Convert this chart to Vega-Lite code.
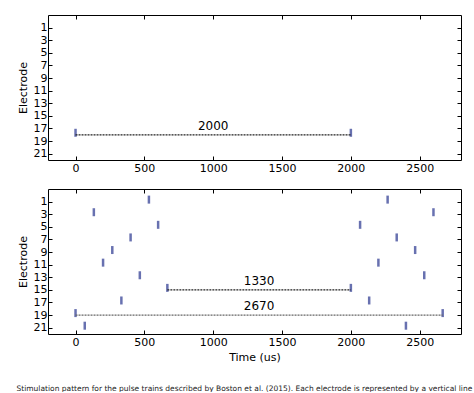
{
  "$schema": "https://vega.github.io/schema/vega-lite/v6.json",
  "padding": {"left": 16, "top": 14, "right": 5, "bottom": 0},
  "spacing": 14,
  "config": {
    "font": "DejaVu Sans",
    "view": {"stroke": "#000000", "strokeWidth": 1},
    "axis": {"labelFontSize": 11, "labelColor": "#000000", "titleFontSize": 11, "titleFontWeight": "normal", "titleColor": "#000000", "grid": false, "domain": false, "tickColor": "#000000", "tickSize": -4, "tickWidth": 1, "format": "d"}
  },
  "title": {"text": "Stimulation pattern for the pulse trains described by Boston et al. (2015). Each electrode is represented by a vertical line", "orient": "bottom", "anchor": "start", "fontSize": 7.5, "fontWeight": "normal", "color": "#222222", "offset": 22},
  "datasets": {
    "pulsesA": [{"t": 0, "e": 18}, {"t": 2000, "e": 18}],
    "gapsA": [{"start": 0, "end": 2000, "mid": 1000, "e": 18, "label": "2000", "kind": "dark"}],
    "pulsesB": [
      {"t": 0, "e": 19}, {"t": 67, "e": 21}, {"t": 133, "e": 3}, {"t": 200, "e": 11},
      {"t": 267, "e": 9}, {"t": 333, "e": 17}, {"t": 400, "e": 7}, {"t": 467, "e": 13},
      {"t": 533, "e": 1}, {"t": 600, "e": 5}, {"t": 667, "e": 15},
      {"t": 2000, "e": 15}, {"t": 2067, "e": 5}, {"t": 2133, "e": 17}, {"t": 2200, "e": 11},
      {"t": 2267, "e": 1}, {"t": 2333, "e": 7}, {"t": 2400, "e": 21}, {"t": 2467, "e": 9},
      {"t": 2533, "e": 13}, {"t": 2600, "e": 3}, {"t": 2667, "e": 19}
    ],
    "gapsB": [
      {"start": 667, "end": 2000, "mid": 1333, "e": 15, "label": "1330", "kind": "dark"},
      {"start": 0, "end": 2667, "mid": 1333, "e": 19, "label": "2670", "kind": "light"}
    ]
  },
  "vconcat": [
    {
      "width": 413, "height": 145,
      "resolve": {"axis": {"x": "independent", "y": "independent"}},
      "layer": [
        {
          "data": {"name": "pulsesA"},
          "mark": {"type": "tick", "orient": "vertical", "size": 8, "thickness": 2.5, "color": "#28358f", "yOffset": -2},
          "encoding": {
            "x": {"field": "t", "type": "quantitative", "scale": {"domain": [-200, 2800], "nice": false, "zero": false},
                  "axis": {"orient": "bottom", "values": [0, 500, 1000, 1500, 2000, 2500], "labelPadding": 6, "title": null}},
            "y": {"field": "e", "type": "quantitative", "scale": {"domain": [-1, 22], "reverse": true, "nice": false, "zero": false},
                  "axis": {"orient": "left", "values": [1, 3, 5, 7, 9, 11, 13, 15, 17, 19, 21], "labelPadding": 5, "title": "Electrode", "titlePadding": 5}}
          }
        },
        {
          "data": {"name": "gapsA"},
          "mark": {"type": "rule", "strokeDash": [2, 1], "strokeWidth": 1.2},
          "encoding": {
            "x": {"field": "start", "type": "quantitative", "axis": {"orient": "top", "values": [0, 500, 1000, 1500, 2000, 2500], "labels": false, "title": null}},
            "x2": {"field": "end"},
            "y": {"field": "e", "type": "quantitative", "axis": {"orient": "right", "values": [1, 3, 5, 7, 9, 11, 13, 15, 17, 19, 21], "labels": false, "title": null}},
            "color": {"field": "kind", "type": "nominal", "scale": {"domain": ["dark", "light"], "range": ["#222222", "#666666"]}, "legend": null}
          }
        },
        {
          "data": {"name": "gapsA"},
          "mark": {"type": "text", "fontSize": 12, "baseline": "bottom", "dy": -2, "color": "#000000"},
          "encoding": {
            "x": {"field": "mid", "type": "quantitative", "axis": null},
            "y": {"field": "e", "type": "quantitative", "axis": null},
            "text": {"field": "label"}
          }
        }
      ]
    },
    {
      "width": 413, "height": 145,
      "resolve": {"axis": {"x": "independent", "y": "independent"}},
      "layer": [
        {
          "data": {"name": "pulsesB"},
          "mark": {"type": "tick", "orient": "vertical", "size": 8, "thickness": 2.5, "color": "#28358f", "yOffset": -2},
          "encoding": {
            "x": {"field": "t", "type": "quantitative", "scale": {"domain": [-200, 2800], "nice": false, "zero": false},
                  "axis": {"orient": "bottom", "values": [0, 500, 1000, 1500, 2000, 2500], "labelPadding": 6, "title": "Time (us)", "titlePadding": 4}},
            "y": {"field": "e", "type": "quantitative", "scale": {"domain": [-1, 22], "reverse": true, "nice": false, "zero": false},
                  "axis": {"orient": "left", "values": [1, 3, 5, 7, 9, 11, 13, 15, 17, 19, 21], "labelPadding": 5, "title": "Electrode", "titlePadding": 5}}
          }
        },
        {
          "data": {"name": "gapsB"},
          "mark": {"type": "rule", "strokeDash": [2, 1], "strokeWidth": 1.2},
          "encoding": {
            "x": {"field": "start", "type": "quantitative", "axis": {"orient": "top", "values": [0, 500, 1000, 1500, 2000, 2500], "labels": false, "title": null}},
            "x2": {"field": "end"},
            "y": {"field": "e", "type": "quantitative", "axis": {"orient": "right", "values": [1, 3, 5, 7, 9, 11, 13, 15, 17, 19, 21], "labels": false, "title": null}},
            "color": {"field": "kind", "type": "nominal", "scale": {"domain": ["dark", "light"], "range": ["#222222", "#666666"]}, "legend": null}
          }
        },
        {
          "data": {"name": "gapsB"},
          "mark": {"type": "text", "fontSize": 12, "baseline": "bottom", "dy": -2, "color": "#000000"},
          "encoding": {
            "x": {"field": "mid", "type": "quantitative", "axis": null},
            "y": {"field": "e", "type": "quantitative", "axis": null},
            "text": {"field": "label"}
          }
        }
      ]
    }
  ]
}
